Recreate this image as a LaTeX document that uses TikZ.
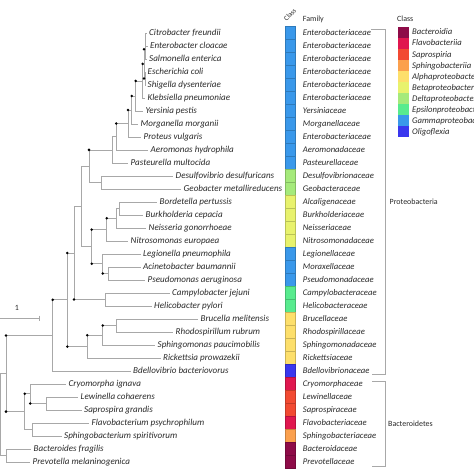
\documentclass[tikz,border=0pt]{standalone}
\usepackage{fontspec}
\setmainfont{Carlito}
\definecolor{bacC}{HTML}{8E0B48}
\definecolor{flaC}{HTML}{E0174F}
\definecolor{sapC}{HTML}{F24A32}
\definecolor{sphC}{HTML}{FBA04D}
\definecolor{alpC}{HTML}{FDDF6B}
\definecolor{betC}{HTML}{E8F26D}
\definecolor{delC}{HTML}{A5EA7B}
\definecolor{epsC}{HTML}{58EB8E}
\definecolor{gamC}{HTML}{3A98EA}
\definecolor{oliC}{HTML}{3A37EE}
\definecolor{treegray}{HTML}{A8A8A8}
\definecolor{txt}{HTML}{2A2A2A}
\newcommand{\treerow}[6]{%
  \pgfmathsetmacro{\yy}{33+13*#2}%
  \coordinate (#1) at (#3,\yy);
  \node[sp] (#1t) at ({#3+2.5},\yy+2.7) {#4};
  \draw[cellbox,fill=#6,draw=#6!80!black] (285,\yy-6.5) rectangle (295,\yy+6.5);
  \node[fam] (#1f) at (302.7,\yy+2.7) {#5};
}
\newcommand{\legrow}[3]{%
  \pgfmathsetmacro{\ly}{26.7+11.06*#1}%
  \fill[#2] (398,\ly) rectangle (409,\ly+11.06);
  \node[fam] (lg#1) at (412,\ly+5.53+2.7) {#3};
}
\begin{document}
\begin{tikzpicture}[x=1bp,y=-1bp,
  br/.style={draw=treegray,line width=0.7bp},
  bk/.style={draw=treegray,line width=0.7bp},
  sp/.style={anchor=base west,inner sep=0pt,text=txt,font=\fontsize{9.1}{10}\selectfont\itshape},
  fam/.style={anchor=base west,inner sep=0pt,text=txt,font=\fontsize{8.7}{10}\selectfont\itshape},
  hdr/.style={inner sep=0pt,text=txt,font=\fontsize{8}{9}\selectfont},
  cellbox/.style={line width=0.35bp},
  supdot/.style={circle,fill=black,inner sep=0pt,minimum size=2.8bp}]
\clip (0,0) rectangle (474,474);
\fill[white] (0,0) rectangle (474,474);
% leaves
\treerow{L0}{0}{146.5}{Citrobacter freundii}{Enterobacteriaceae}{gamC}
\treerow{L1}{1}{147.5}{Enterobacter cloacae}{Enterobacteriaceae}{gamC}
\treerow{L2}{2}{146.5}{Salmonella enterica}{Enterobacteriaceae}{gamC}
\treerow{L3}{3}{145}{Escherichia coli}{Enterobacteriaceae}{gamC}
\treerow{L4}{4}{145}{Shigella dysenteriae}{Enterobacteriaceae}{gamC}
\treerow{L5}{5}{145}{Klebsiella pneumoniae}{Enterobacteriaceae}{gamC}
\treerow{L6}{6}{143}{Yersinia pestis}{Yersiniaceae}{gamC}
\treerow{L7}{7}{138}{Morganella morganii}{Morganellaceae}{gamC}
\treerow{L8}{8}{141}{Proteus vulgaris}{Enterobacteriaceae}{gamC}
\treerow{L9}{9}{148}{Aeromonas hydrophila}{Aeromonadaceae}{gamC}
\treerow{L10}{10}{128}{Pasteurella multocida}{Pasteurellaceae}{gamC}
\treerow{L11}{11}{173}{Desulfovibrio desulfuricans}{Desulfovibrionaceae}{delC}
\treerow{L12}{12}{181}{Geobacter metallireducens}{Geobacteraceae}{delC}
\treerow{L13}{13}{157}{Bordetella pertussis}{Alcaligenaceae}{betC}
\treerow{L14}{14}{143}{Burkholderia cepacia}{Burkholderiaceae}{betC}
\treerow{L15}{15}{146}{Neisseria gonorrhoeae}{Neisseriaceae}{betC}
\treerow{L16}{16}{128}{Nitrosomonas europaea}{Nitrosomonadaceae}{betC}
\treerow{L17}{17}{140.5}{Legionella pneumophila}{Legionellaceae}{gamC}
\treerow{L18}{18}{140.5}{Acinetobacter baumannii}{Moraxellaceae}{gamC}
\treerow{L19}{19}{145}{Pseudomonas aeruginosa}{Pseudomonadaceae}{gamC}
\treerow{L20}{20}{169.5}{Campylobacter jejuni}{Campylobacteraceae}{epsC}
\treerow{L21}{21}{151.5}{Helicobacter pylori}{Helicobacteraceae}{epsC}
\treerow{L22}{22}{198}{Brucella melitensis}{Brucellaceae}{alpC}
\treerow{L23}{23}{173}{Rhodospirillum rubrum}{Rhodospirillaceae}{alpC}
\treerow{L24}{24}{155}{Sphingomonas paucimobilis}{Sphingomonadaceae}{alpC}
\treerow{L25}{25}{160.5}{Rickettsia prowazekii}{Rickettsiaceae}{alpC}
\treerow{L26}{26}{130.5}{Bdellovibrio bacteriovorus}{Bdellovibrionaceae}{oliC}
\treerow{L27}{27}{66}{Cryomorpha ignava}{Cryomorphaceae}{flaC}
\treerow{L28}{28}{78}{Lewinella cohaerens}{Lewinellaceae}{sapC}
\treerow{L29}{29}{81.5}{Saprospira grandis}{Saprospiraceae}{sapC}
\treerow{L30}{30}{89}{Flavobacterium psychrophilum}{Flavobacteriaceae}{flaC}
\treerow{L31}{31}{61.5}{Sphingobacterium spiritivorum}{Sphingobacteriaceae}{sphC}
\treerow{L32}{32}{31}{Bacteroides fragilis}{Bacteroidaceae}{bacC}
\treerow{L33}{33}{30}{Prevotella melaninogenica}{Prevotellaceae}{bacC}
% internal nodes
\coordinate (N1) at (145.5,39.5);
\coordinate (N2) at (145,49.25);
\coordinate (N3) at (145.5,78.5);
\coordinate (N4) at (144,63.875);
\coordinate (N5) at (142.7,80.94);
\coordinate (N6) at (135.7,95.97);
\coordinate (N7) at (131.7,109.98);
\coordinate (N8) at (128,123.49);
\coordinate (M) at (116.3,136.75);
\coordinate (G) at (112,149.87);
\coordinate (D) at (101.7,182.5);
\coordinate (GD) at (89,166.19);
\coordinate (B1) at (119.3,208.5);
\coordinate (B2) at (116,218.25);
\coordinate (B3) at (106.7,229.63);
\coordinate (AP) at (108.3,273.5);
\coordinate (LP) at (102.7,263.75);
\coordinate (X) at (91.7,246.69);
\coordinate (P1) at (81,206.44);
\coordinate (E) at (105,299.5);
\coordinate (Q) at (74,252.97);
\coordinate (A1) at (116.7,325.5);
\coordinate (A2) at (102.7,335.25);
\coordinate (A3) at (87.3,346.63);
\coordinate (R) at (67.3,299.8);
\coordinate (S) at (52.7,335.4);
\coordinate (LS) at (46,403.5);
\coordinate (CL) at (30.3,393.75);
\coordinate (FS) at (32.3,429.5);
\coordinate (BB) at (24.7,411.63);
\coordinate (T) at (6,373.5);
\coordinate (BA) at (6.7,455.5);
\coordinate (RT) at (0.5,414.5);
% branches
\draw[br] (N1) |- (L0) (N1) |- (L1);
\draw[br] (N2) |- (N1) (N2) |- (L2);
\draw[br] (N3) |- (L3) (N3) |- (L4);
\draw[br] (N4) |- (N2) (N4) |- (N3);
\draw[br] (N5) |- (N4) (N5) |- (L5);
\draw[br] (N6) |- (N5) (N6) |- (L6);
\draw[br] (N7) |- (N6) (N7) |- (L7);
\draw[br] (N8) |- (N7) (N8) |- (L8);
\draw[br] (M) |- (N8) (M) |- (L9);
\draw[br] (G) |- (M) (G) |- (L10);
\draw[br] (D) |- (L11) (D) |- (L12);
\draw[br] (GD) |- (G) (GD) |- (D);
\draw[br] (B1) |- (L13) (B1) |- (L14);
\draw[br] (B2) |- (B1) (B2) |- (L15);
\draw[br] (B3) |- (B2) (B3) |- (L16);
\draw[br] (AP) |- (L18) (AP) |- (L19);
\draw[br] (LP) |- (L17) (LP) |- (AP);
\draw[br] (X) |- (B3) (X) |- (LP);
\draw[br] (P1) |- (GD) (P1) |- (X);
\draw[br] (E) |- (L20) (E) |- (L21);
\draw[br] (Q) |- (P1) (Q) |- (E);
\draw[br] (A1) |- (L22) (A1) |- (L23);
\draw[br] (A2) |- (A1) (A2) |- (L24);
\draw[br] (A3) |- (A2) (A3) |- (L25);
\draw[br] (R) |- (Q) (R) |- (A3);
\draw[br] (S) |- (R) (S) |- (L26);
\draw[br] (LS) |- (L28) (LS) |- (L29);
\draw[br] (CL) |- (L27) (CL) |- (LS);
\draw[br] (FS) |- (L30) (FS) |- (L31);
\draw[br] (BB) |- (CL) (BB) |- (FS);
\draw[br] (T) |- (S) (T) |- (BB);
\draw[br] (BA) |- (L32) (BA) |- (L33);
\draw[br] (RT) |- (T) (RT) |- (BA);
% support dots
\node[supdot] (d1) at (N4 |- N2) {};
\node[supdot] (d2) at (N5 |- N4) {};
\node[supdot] (d3) at (N4 |- N3) {};
\node[supdot] (d4) at (N6 |- N5) {};
\node[supdot] (d5) at (N7 |- N6) {};
\node[supdot] (d6) at (N8 |- N7) {};
\node[supdot] (d7) at (M |- N8) {};
\node[supdot] (d8) at (GD |- G) {};
\node[supdot] (d9) at (B3 |- B2) {};
\node[supdot] (d10) at (X |- B3) {};
\node[supdot] (d11) at (X |- LP) {};
\node[supdot] (d12) at (LP |- AP) {};
\node[supdot] (d13) at (Q |- E) {};
\node[supdot] (d14) at (R |- Q) {};
\node[supdot] (d15) at (S |- R) {};
\node[supdot] (d16) at (T |- S) {};
\node[supdot] (d17) at (R |- A3) {};
\node[supdot] (d18) at (A3 |- A2) {};
\node[supdot] (d19) at (A2 |- A1) {};
\node[supdot] (d20) at (CL |- LS) {};
\node[supdot] (d21) at (BB |- CL) {};
\node[supdot] (d22) at (T |- BB) {};
% scale bar
\coordinate (sb0) at (0,318);
\coordinate (sb1) at (39,318);
\coordinate (sb2) at (39,315.5);
\coordinate (sb3) at (39,320.5);
\draw[br] (sb0) -- (sb1) (sb2) -- (sb3);
\node[hdr] (sblab) at (17,308) {1};
% headers
\node[hdr,rotate=45,anchor=base west,font=\fontsize{7}{8}\selectfont] (hcls) at (286.5,21.5) {Class};
\node[hdr,anchor=base west] (hfam) at (302.7,22) {Family};
\node[hdr,anchor=base west] (hleg) at (397,22) {Class};
% brackets
\coordinate (p1) at (371,29); \coordinate (p2) at (385,29);
\coordinate (p3) at (385,374); \coordinate (p4) at (372,374);
\draw[bk] (p1) -- (p2) -- (p3) -- (p4);
\coordinate (q1) at (372,381); \coordinate (q2) at (385,381);
\coordinate (q3) at (385,466.5); \coordinate (q4) at (372,466.5);
\draw[bk] (q1) -- (q2) -- (q3) -- (q4);
\node[hdr,anchor=west] (proteo) at (389.5,202) {Proteobacteria};
\node[hdr,anchor=west] (bacto) at (388,423.5) {Bacteroidetes};
% legend
\legrow{0}{bacC}{Bacteroidia}
\legrow{1}{flaC}{Flavobacteriia}
\legrow{2}{sapC}{Saprospiria}
\legrow{3}{sphC}{Sphingobacteriia}
\legrow{4}{alpC}{Alphaproteobacteria}
\legrow{5}{betC}{Betaproteobacteria}
\legrow{6}{delC}{Deltaproteobacteria}
\legrow{7}{epsC}{Epsilonproteobacteria}
\legrow{8}{gamC}{Gammaproteobacteria}
\legrow{9}{oliC}{Oligoflexia}
\end{tikzpicture}
\end{document}
